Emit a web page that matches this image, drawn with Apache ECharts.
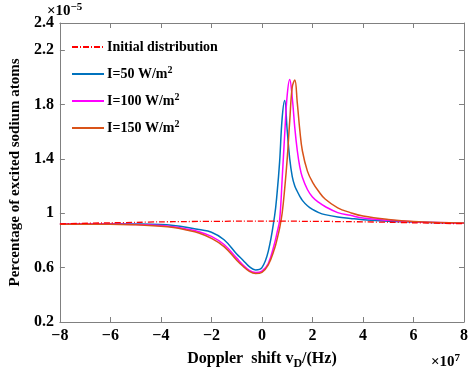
<!DOCTYPE html>
<html>
<head>
<meta charset="utf-8">
<script src="https://cdn.jsdelivr.net/npm/echarts@6/dist/echarts.min.js"></script>
<style>
  html, body { margin: 0; padding: 0; background: #fff; }
  #chart { width: 474px; height: 375px; }
</style>
</head>
<body>
<div id="chart"></div>
<script>
// doppler shift, units of 1e7 Hz
const xs = [-8, -6, -5, -4, -3.5, -3, -2.5, -2, -1.5, -1, -0.75, -0.5, -0.25, 0, 0.25, 0.5, 0.6, 0.7, 0.8, 0.9, 1.0, 1.1, 1.2, 1.3, 1.4, 1.5, 1.6, 1.8, 2.0, 2.25, 2.5, 3, 3.5, 4, 5, 6, 8];

// percentages, units of 1e-5
const initialDist = [0.922, 0.93, 0.933, 0.937, 0.938, 0.939, 0.940, 0.941, 0.941, 0.942, 0.942, 0.942, 0.942, 0.942, 0.942, 0.942, 0.942, 0.942, 0.942, 0.942, 0.942, 0.942, 0.942, 0.942, 0.942, 0.941, 0.941, 0.941, 0.941, 0.940, 0.940, 0.939, 0.938, 0.937, 0.934, 0.930, 0.923];
const i50 = [0.921, 0.922, 0.921, 0.917, 0.91, 0.898, 0.88, 0.86, 0.805, 0.70, 0.655, 0.607, 0.583, 0.60, 0.72, 0.98, 1.15, 1.38, 1.70, 1.83, 1.61, 1.40, 1.27, 1.20, 1.16, 1.125, 1.095, 1.055, 1.028, 1.005, 0.99, 0.972, 0.962, 0.953, 0.942, 0.935, 0.927];
const i100 = [0.921, 0.921, 0.918, 0.91, 0.90, 0.885, 0.865, 0.83, 0.77, 0.67, 0.62, 0.58, 0.564, 0.575, 0.63, 0.78, 0.86, 0.95, 1.25, 1.58, 1.87, 1.985, 1.85, 1.63, 1.46, 1.34, 1.265, 1.175, 1.12, 1.08, 1.05, 1.005, 0.985, 0.965, 0.948, 0.938, 0.927];
const i150 = [0.92, 0.92, 0.915, 0.905, 0.895, 0.877, 0.855, 0.815, 0.755, 0.655, 0.61, 0.572, 0.556, 0.566, 0.62, 0.74, 0.81, 0.89, 1.0, 1.18, 1.40, 1.68, 1.93, 1.98, 1.81, 1.61, 1.46, 1.31, 1.23, 1.16, 1.105, 1.04, 1.005, 0.98, 0.955, 0.94, 0.928];

const seriesNames = ['Initial distribution', 'I=50 W/m{sup|2}', 'I=100 W/m{sup|2}', 'I=150 W/m{sup|2}'];
const seriesColors = ['#ff0000', '#0072bd', '#ff00ff', '#d95319'];

const font = 'Liberation Serif';
const pairs = (ys) => xs.map((x, i) => [x, ys[i]]);

let myChart = echarts.init(document.getElementById('chart'));

const axisLine = { show: true, onZero: false, lineStyle: { color: '#808080', width: 1 } };
const axisTick = { show: true, inside: true, length: 5, lineStyle: { color: '#808080' } };
const minusFmt = (v) => String(v).replace('-', '\u2212');

let option = {
  animation: false,
  backgroundColor: '#fff',
  grid: { left: 48, right: 10, top: 23, bottom: 44 },
  legend: {
    orient: 'vertical',
    left: 66,
    top: 35,
    itemWidth: 32,
    itemHeight: 10,
    itemGap: 11,
    data: seriesNames,
    itemStyle: { color: 'transparent', borderWidth: 0, opacity: 0 },
    textStyle: {
      fontFamily: font, fontWeight: 'bold', fontSize: 14, color: '#000', padding: [0, 0, 0, -2],
      rich: { sup: { fontFamily: font, fontWeight: 'bold', fontSize: 10, verticalAlign: 'top', padding: [0, 0, 8, 0] } }
    }
  },
  xAxis: [{
    type: 'value', min: -8, max: 8, interval: 2,
    axisLine, axisTick, splitLine: { show: false },
    axisLabel: { fontFamily: font, fontWeight: 'bold', fontSize: 16, color: '#000', margin: 6, formatter: minusFmt },
    name: 'Doppler  shift v{sub|D}/(Hz)',
    nameLocation: 'middle', nameGap: 26,
    nameTextStyle: {
      fontFamily: font, fontWeight: 'bold', fontSize: 16, color: '#000',
      rich: { sub: { fontFamily: font, fontWeight: 'bold', fontSize: 12, padding: [10, 0, 0, 0] } }
    }
  }, {
    type: 'value', position: 'top', min: -8, max: 8, interval: 2,
    axisLine, axisTick, axisLabel: { show: false }, splitLine: { show: false }
  }],
  yAxis: [{
    type: 'value', min: 0.2, max: 2.4, interval: 0.4,
    axisLine, axisTick, splitLine: { show: false },
    axisLabel: { fontFamily: font, fontWeight: 'bold', fontSize: 16, color: '#000', margin: 6 },
    name: 'Percentage of excited sodium atoms',
    nameLocation: 'middle', nameGap: 32, nameRotate: 90,
    nameTextStyle: { fontFamily: font, fontWeight: 'bold', fontSize: 15, color: '#000' }
  }, {
    type: 'value', position: 'right', min: 0.2, max: 2.4, interval: 0.4,
    axisLine, axisTick, axisLabel: { show: false }, splitLine: { show: false }
  }],
  graphic: [
    {
      type: 'text', left: 47, top: 2,
      style: { text: '\u00d710{s|\u22125}', font: 'bold 15px "Liberation Serif"', fill: '#000',
        rich: { s: { font: 'bold 11px "Liberation Serif"', padding: [0, 0, 8, 0], verticalAlign: 'top' } } }
    },
    {
      type: 'text', left: 431, top: 353,
      style: { text: '\u00d710{s|7}', font: 'bold 15px "Liberation Serif"', fill: '#000',
        rich: { s: { font: 'bold 11px "Liberation Serif"', padding: [0, 0, 8, 0], verticalAlign: 'top' } } }
    }
  ],
  series: [
    { name: seriesNames[0], type: 'line', data: pairs(initialDist), symbol: 'none', smooth: 0.3,
      lineStyle: { color: seriesColors[0], width: 1.3, type: [6, 2, 1, 2] }, itemStyle: { color: seriesColors[0] }, z: 5 },
    { name: seriesNames[1], type: 'line', data: pairs(i50), symbol: 'none', smooth: 0.4,
      lineStyle: { color: seriesColors[1], width: 1.5 }, itemStyle: { color: seriesColors[1] } },
    { name: seriesNames[2], type: 'line', data: pairs(i100), symbol: 'none', smooth: 0.4,
      lineStyle: { color: seriesColors[2], width: 1.5 }, itemStyle: { color: seriesColors[2] } },
    { name: seriesNames[3], type: 'line', data: pairs(i150), symbol: 'none', smooth: 0.4,
      lineStyle: { color: seriesColors[3], width: 1.5 }, itemStyle: { color: seriesColors[3] } }
  ]
};

myChart.setOption(option);
</script>
</body>
</html>
